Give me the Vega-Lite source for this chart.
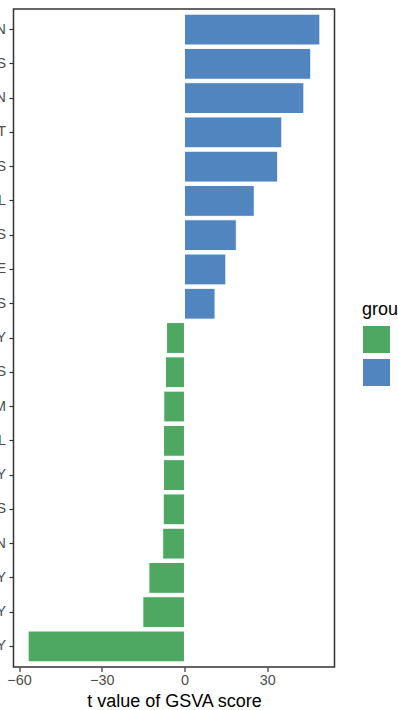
{
  "$schema": "https://vega.github.io/schema/vega-lite/v6.json",
  "autosize": {"type": "none"},
  "padding": {"left": 13.5, "top": 9, "right": 63.5, "bottom": 43},
  "width": 321,
  "height": 658,
  "background": "white",
  "config": {
    "font": "Liberation Sans",
    "view": {"stroke": "#333333", "strokeWidth": 1.5, "fill": "white"},
    "axis": {"grid": false, "domain": false}
  },
  "data": {
    "values": [
      {"pathway": "KEGG_OXIDATIVE_PHOSPHORYLATION", "t": 49.1, "group": "up"},
      {"pathway": "KEGG_GLYCOLYSIS_GLUCONEOGENESIS", "t": 45.8, "group": "up"},
      {"pathway": "KEGG_DNA_REPLICATION", "t": 43.3, "group": "up"},
      {"pathway": "KEGG_PROTEIN_EXPORT", "t": 35.3, "group": "up"},
      {"pathway": "KEGG_AMINOACYL_TRNA_BIOSYNTHESIS", "t": 33.8, "group": "up"},
      {"pathway": "KEGG_CELL_CYCLE_CONTROL", "t": 25.3, "group": "up"},
      {"pathway": "KEGG_STEROID_BIOSYNTHESIS", "t": 18.8, "group": "up"},
      {"pathway": "KEGG_PROTEASOME", "t": 15.0, "group": "up"},
      {"pathway": "KEGG_N_GLYCAN_BIOSYNTHESIS", "t": 11.1, "group": "up"},
      {"pathway": "KEGG_CHEMOKINE_SIGNALING_PATHWAY", "t": -6.5, "group": "down"},
      {"pathway": "KEGG_ABC_TRANSPORTERS", "t": -6.9, "group": "down"},
      {"pathway": "KEGG_ARACHIDONIC_ACID_METABOLISM", "t": -7.5, "group": "down"},
      {"pathway": "KEGG_COMPLEMENT_COAGULATION_CONTROL", "t": -7.6, "group": "down"},
      {"pathway": "KEGG_JAK_STAT_SIGNALING_PATHWAY", "t": -7.6, "group": "down"},
      {"pathway": "KEGG_CELL_ADHESION_MOLECULES_CAMS", "t": -7.7, "group": "down"},
      {"pathway": "KEGG_ECM_RECEPTOR_INTERACTION", "t": -7.9, "group": "down"},
      {"pathway": "KEGG_TOLL_LIKE_RECEPTOR_SIGNALING_PATHWAY", "t": -12.9, "group": "down"},
      {"pathway": "KEGG_NATURAL_KILLER_CELL_MEDIATED_CYTOTOXICITY", "t": -15.1, "group": "down"},
      {"pathway": "KEGG_T_CELL_RECEPTOR_SIGNALING_PATHWAY", "t": -56.7, "group": "down"}
    ]
  },
  "mark": {"type": "bar", "stroke": "white", "strokeWidth": 1},
  "encoding": {
    "y": {
      "field": "pathway",
      "type": "nominal",
      "sort": {"field": "t", "order": "descending"},
      "scale": {"paddingInner": 0.1, "paddingOuter": 0.15},
      "axis": {
        "title": null,
        "labelFontSize": 14.4,
        "labelColor": "#4D4D4D",
        "labelLimit": 0,
        "labelPadding": 3.5,
        "tickSize": 4.5,
        "tickColor": "#333333",
        "tickWidth": 1.2
      }
    },
    "x": {
      "field": "t",
      "type": "quantitative",
      "scale": {"domain": [-62, 54.4], "nice": false, "zero": false},
      "axis": {
        "title": "t value of GSVA score",
        "titleFontSize": 18,
        "titleFontWeight": "normal",
        "titleColor": "black",
        "titlePadding": 6,
        "values": [-60, -30, 0, 30],
        "labelFontSize": 14.4,
        "labelColor": "#4D4D4D",
        "labelPadding": 2,
        "tickSize": 4.5,
        "tickColor": "#333333",
        "tickWidth": 1.2
      }
    },
    "fill": {
      "field": "group",
      "type": "nominal",
      "scale": {"domain": ["down", "up"], "range": ["#4EA862", "#5185BF"]},
      "legend": {
        "orient": "none",
        "legendX": 348.5,
        "legendY": 292,
        "padding": 0,
        "title": "group",
        "titleFontSize": 18,
        "titleFontWeight": "normal",
        "titleColor": "black",
        "titlePadding": 6,
        "symbolType": "square",
        "symbolSize": 784,
        "symbolStrokeColor": "white",
        "symbolStrokeWidth": 1,
        "symbolOpacity": 1,
        "rowPadding": 0,
        "labelFontSize": 14.4,
        "labelColor": "#333333",
        "labelOffset": 8
      }
    }
  }
}
